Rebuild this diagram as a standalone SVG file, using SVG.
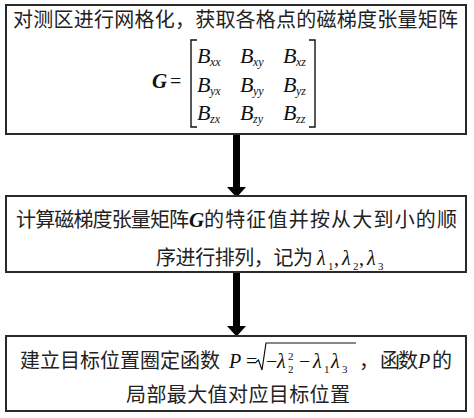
<svg xmlns="http://www.w3.org/2000/svg" width="474" height="418" viewBox="0 0 474 418">
<style>
.box{fill:#fff;stroke:#2a2a2a;stroke-width:2}
.cjk{font-family:"Noto Sans CJK SC","Noto Sans",sans-serif;font-size:20px;fill:#222}
.m{font-family:"Liberation Serif",serif;font-style:italic;font-size:20px;fill:#111}
.mb{font-family:"Liberation Serif",serif;font-style:italic;font-weight:bold;font-size:21px;fill:#111}
.mr{font-family:"Liberation Serif",serif;font-size:20px;fill:#111}
.B{font-family:"Liberation Serif",serif;font-style:italic;font-size:22px;fill:#111}
.s{font-family:"Liberation Serif",serif;font-style:italic;font-size:12px;fill:#111}
.sr{font-family:"Liberation Serif",serif;font-size:11px;fill:#111}
.br{fill:none;stroke:#111;stroke-width:1.4}
.conn{stroke:#000;stroke-width:7;fill:none}
</style>
<defs>
<marker id="ah" markerUnits="userSpaceOnUse" markerWidth="11" markerHeight="19" refX="0" refY="9.5" orient="auto">
<path d="M0,0 L10.5,9.5 L0,19 z" fill="#000"/>
</marker>
</defs>
<g id="connectors">
<line class="conn" x1="236.5" y1="135" x2="236.5" y2="187" marker-end="url(#ah)"/>
<line class="conn" x1="236.5" y1="273" x2="236.5" y2="326" marker-end="url(#ah)"/>
</g>
<g id="node1">
<rect class="box" x="6" y="5" width="460" height="129"/>
<text class="cjk" x="13" y="27" textLength="445" lengthAdjust="spacing">对测区进行网格化，获取各格点的磁梯度张量矩阵</text>
<text class="mb" x="152" y="88">G</text>
<text class="mr" x="170" y="88">=</text>
<path class="br" d="M197,40 H191 V127 H197"/>
<path class="br" d="M309,40 H315 V127 H309"/>
<text class="B" x="197" y="63">B</text><text class="s" x="210" y="66">xx</text>
<text class="B" x="240" y="63">B</text><text class="s" x="253" y="66">xy</text>
<text class="B" x="283" y="63">B</text><text class="s" x="296" y="66">xz</text>
<text class="B" x="197" y="92">B</text><text class="s" x="210" y="95">yx</text>
<text class="B" x="240" y="92">B</text><text class="s" x="253" y="95">yy</text>
<text class="B" x="283" y="92">B</text><text class="s" x="296" y="95">yz</text>
<text class="B" x="197" y="120">B</text><text class="s" x="210" y="123">zx</text>
<text class="B" x="240" y="120">B</text><text class="s" x="253" y="123">zy</text>
<text class="B" x="283" y="120">B</text><text class="s" x="296" y="123">zz</text>
</g>
<g id="node2">
<rect class="box" x="6" y="196" width="460" height="76"/>
<text class="cjk" x="16" y="227" textLength="173" lengthAdjust="spacing">计算磁梯度张量矩阵</text>
<text class="mb" x="189" y="227">G</text>
<text class="cjk" x="204" y="227" textLength="253" lengthAdjust="spacing">的特征值并按从大到小的顺</text>
<text class="cjk" x="156" y="265" textLength="157" lengthAdjust="spacing">序进行排列，记为</text>
<text class="m" x="317" y="265">λ</text><text class="sr" x="328" y="270">1</text><text class="mr" x="334" y="265">,</text>
<text class="m" x="342" y="265">λ</text><text class="sr" x="353" y="270">2</text><text class="mr" x="359" y="265">,</text>
<text class="m" x="367" y="265">λ</text><text class="sr" x="378" y="270">3</text>
</g>
<g id="node3">
<rect class="box" x="6" y="336" width="460" height="75"/>
<text class="cjk" x="20" y="368" textLength="200" lengthAdjust="spacing">建立目标位置圈定函数</text>
<text class="m" x="229" y="368">P</text>
<text class="mr" x="246" y="368">=</text>
<path d="M256,362 L258.5,360 L262,370 L266,343 H356" fill="none" stroke="#111" stroke-width="1.2"/>
<text class="mr" x="266" y="368">−</text>
<text class="m" x="277" y="368">λ</text><text class="sr" x="288" y="360">2</text><text class="sr" x="288" y="373">2</text>
<text class="mr" x="299" y="368">−</text>
<text class="m" x="313" y="368">λ</text><text class="sr" x="324" y="373">1</text>
<text class="m" x="331" y="368">λ</text><text class="sr" x="342" y="373">3</text>
<text class="cjk" x="359" y="368">，</text>
<text class="cjk" x="380" y="368" textLength="38" lengthAdjust="spacing">函数</text>
<text class="m" x="418" y="368">P</text>
<text class="cjk" x="432" y="368">的</text>
<text class="cjk" x="126" y="402" textLength="224" lengthAdjust="spacing">局部最大值对应目标位置</text>
</g>
</svg>
